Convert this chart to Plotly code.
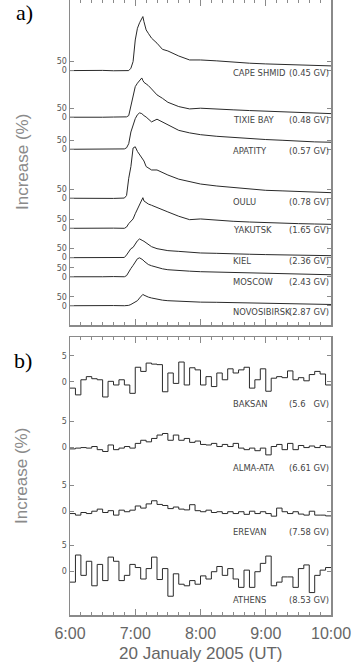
import plotly.graph_objects as go

# ---------------- data ----------------
# panel a: minutes after 06:00 UT, increase in %
t_a = [0, 10, 20, 30, 40, 50, 52, 54, 56, 58, 60, 62, 64, 66, 67, 68, 70, 72, 75,
       80, 85, 90, 100, 110, 120, 135, 150, 165, 180, 195, 210, 225, 240]

cape_shmidt = [0, 1, -2, 1, -1, 0, 1, 0, 13, 50, 170, 235, 266, 290, 300, 272, 226, 207, 180,
               152, 118, 109, 81, 59, 59, 54, 46, 41, 37, 35, 31, 28, 26]
tixie_bay = [0, -1, 1, 0, 1, 0, 2, 9, 65, 120, 170, 189, 207, 218, 204, 194, 185, 176, 157,
             124, 105, 83, 59, 46, 50, 44, 41, 37, 33, 30, 26, 22, 20]
apatity = [0, 1, 0, -1, 0, 2, 8, 31, 96, 139, 170, 192, 202, 198, 189, 187, 179, 170, 152,
           167, 152, 133, 105, 91, 81, 72, 65, 59, 54, 50, 44, 41, 39]
oulu = [0, -1, 1, 0, -1, 1, 15, 111, 176, 279, 286, 260, 243, 227, 218, 207, 176, 167, 157,
        157, 142, 129, 106, 92, 79, 68, 59, 50, 44, 41, 37, 33, 31]
yakutsk = [0, 1, -1, 0, 1, 0, 7, 26, 41, 52, 81, 104, 131, 155, 170, 152, 141, 135, 128,
           117, 104, 91, 67, 48, 52, 44, 39, 35, 31, 30, 26, 24, 22]
kiel = [0, 1, 0, -1, 0, 1, 15, 35, 50, 57, 76, 94, 104, 100, 94, 91, 81, 72, 61,
        50, 44, 39, 35, 30, 26, 24, 20, 19, 17, 15, 13, 13, 11]
moscow = [0, -1, 1, 0, 1, 0, 6, 28, 46, 63, 85, 100, 105, 100, 94, 87, 78, 68, 61,
          52, 44, 39, 33, 31, 28, 26, 24, 22, 19, 17, 15, 13, 11]
novosibirsk = [0, 1, -1, 0, 1, 0, 0, 2, 7, 13, 20, 28, 43, 59, 63, 59, 52, 48, 43,
               35, 31, 28, 24, 22, 20, 19, 17, 15, 13, 11, 9, 9, 7]

names_a = ["CAPE SHMID", "TIXIE BAY", "APATITY", "OULU", "YAKUTSK", "KIEL", "MOSCOW", "NOVOSIBIRSK"]
rig_a = ["(0.45 GV)", "(0.48 GV)", "(0.57 GV)", "(0.78 GV)", "(1.65 GV)", "(2.36 GV)", "(2.43 GV)", "(2.87 GV)"]
series_a = [cape_shmidt, tixie_bay, apatity, oulu, yakutsk, kiel, moscow, novosibirsk]

# panel b: 5-minute averages, minutes after 06:00 UT, increase in %
bin_b = 5
baksan = [-1.2, -2.5, 0.4, 1.0, 0.6, 0.4, -2.9, 0.1, -0.6, 0.4, -0.6, -2.2, 2.8, 2.0, 3.6, 3.4,
          3.3, -1.9, 1.7, -0.3, 3.8, -0.6, 2.7, 2.3, -0.6, 1.0, -0.9, 1.7, 0.4, 2.5, 1.7, 2.3,
          2.8, -1.2, 0.4, 2.5, -1.8, 0.7, 1.0, 0.8, 2.1, 0.4, 0.8, 0.2, 1.4, 2.0, 1.5, -0.6]
alma_ata = [-0.25, -0.1, 0.0, -0.1, 0.2, -0.4, -0.75, 0.5, -0.4, -0.1, 0.2, -0.1, 0.8, 1.4, 1.1, 1.75,
            2.4, 2.7, 1.4, 2.4, 1.4, 1.75, 1.0, 1.25, 0.6, 0.5, 0.8, 0.2, 0.6, 0.2, 0.8, -0.1,
            -0.4, -0.1, -0.6, -0.1, -1.4, 0.2, 0.6, -0.4, 0.8, -0.4, 0.4, 0.0, 0.3, 0.0, 0.4, 0.1]
erevan = [-0.45, -0.75, -0.25, -0.45, 0.0, 0.4, -0.25, 0.1, -0.75, 0.2, -0.1, 0.2, 1.0, 0.6, 1.4, 2.0,
          1.3, 1.1, 0.5, 0.8, 0.4, 0.25, 1.25, 0.1, -0.1, 0.2, -0.25, -0.1, -0.45, -0.1, -0.45, -0.1,
          -0.6, 0.0, -0.45, -0.1, -0.45, -0.95, 0.6, -0.1, -0.45, -0.1, -0.55, -0.75, 0.0, -0.75, -0.75, -0.9]
athens = [-2.1, 3.1, -0.8, 1.9, -2.8, 1.3, -1.8, 2.7, 1.9, -1.8, -0.8, 1.3, 0.7, -1.5, 0.5, 2.7,
          -1.6, 0.5, -4.8, -0.5, -2.5, -2.8, -1.8, -2.5, -0.9, -1.5, -0.1, 0.9, -0.8, 0.5, -1.5, -3.1,
          0.2, -3.1, -0.1, 1.5, 2.9, -2.8, -2.1, -1.1, -1.1, -3.1, 0.5, 1.2, -4.1, -0.8, 0.2, 0.7]

names_b = ["BAKSAN", "ALMA-ATA", "EREVAN", "ATHENS"]
rig_b = ["(5.6   GV)", "(6.61 GV)", "(7.58 GV)", "(8.53 GV)"]
series_b = [baksan, alma_ata, erevan, athens]

hour_ticks = [0, 60, 120, 180, 240]
hour_labels = ["6:00", "7:00", "8:00", "9:00", "10:00"]
x_title = "20 Janualy 2005 (UT)"
y_title = "Increase (%)"

# ---------------- layout helpers ----------------
off_a = [1306, 1047, 869, 597, 430, 267, 161, 0]      # vertical stacking offsets (%)
lab_shift_a = [15, 15, 9, 19, 9, 18, 28, 35]
off_b = [36.3, 23.7, 11.5, 0.0]
lab_shift_b = [4.2, 3.85, 4.06, 5.44]

W, H = 358, 670
ML, MR, MT, MB = 70, 27, 0, 55
PH = H - MT - MB
PW = W - ML - MR

def py(pix):  # pixel row -> paper
    return (H - MB - pix) / PH

def px(pix):
    return (pix - ML) / PW

line_col = "#2a2a2a"
axis_col = "#8a8a8a"
tick_font = dict(family="DejaVu Sans", size=8, color="#555555")
lab_font = dict(family="DejaVu Sans", size=8.4, color="#444444")

fig = go.Figure()

for vals, off in zip(series_a, off_a):
    fig.add_trace(go.Scatter(x=t_a, y=[v + off for v in vals], mode="lines",
                             line=dict(color=line_col, width=1), xaxis="x2", yaxis="y2",
                             hoverinfo="skip", showlegend=False))

for vals, off in zip(series_b, off_b):
    xs = [i * bin_b for i in range(len(vals))] + [len(vals) * bin_b]
    ys = [v + off for v in vals] + [vals[-1] + off]
    fig.add_trace(go.Scatter(x=xs, y=ys, mode="lines", line=dict(color=line_col, width=1, shape="hv"),
                             xaxis="x", yaxis="y", hoverinfo="skip", showlegend=False))

minor_vals = [m for m in range(0, 241, 10) if m % 60]
xcommon = dict(range=[0, 240], tickmode="array", tickvals=hour_ticks, ticks="inside", ticklen=6,
               tickcolor=axis_col, showline=True, linecolor=axis_col, linewidth=1.5, mirror="ticks",
               showgrid=False, zeroline=False, automargin=False,
               minor=dict(tickmode="array", tickvals=minor_vals, ticks="inside", ticklen=3, tickcolor=axis_col))

ya_vals, ya_text = [], []
for off in off_a:
    ya_vals += [off, off + 50]
    ya_text += ["0", "50"]
yb_vals, yb_text = [], []
for off in off_b:
    yb_vals += [off, off + 5]
    yb_text += ["0", "5"]

ycommon = dict(ticks="inside", ticklen=4, tickcolor=axis_col, showline=True, linecolor=axis_col,
               linewidth=1.5, mirror="ticks", showgrid=False, zeroline=False, tickfont=tick_font,
               tickmode="array", ticklabelstandoff=0, automargin=False)

fig.update_layout(
    width=W, height=H, margin=dict(l=ML, r=MR, t=MT, b=MB, autoexpand=False),
    paper_bgcolor="white", plot_bgcolor="white", showlegend=False,
    xaxis=dict(**xcommon, anchor="y", domain=[0, 1], ticktext=hour_labels, ticklabelstandoff=3,
               tickfont=dict(family="Liberation Sans", size=16, color="#666666")),
    xaxis2=dict(**xcommon, anchor="y2", domain=[0, 1], showticklabels=False),
    yaxis=dict(**ycommon, domain=[0, py(337)], range=[-8.4, 44.9], tickvals=yb_vals, ticktext=yb_text),
    yaxis2=dict(**ycommon, domain=[py(325), 1], range=[-107, 1698], tickvals=ya_vals, ticktext=ya_text),
)

ann = []
for name, rig, off, sh in zip(names_a, rig_a, off_a, lab_shift_a):
    ann.append(dict(x=px(231), y=off - sh, xref="paper", yref="y2", text=name, showarrow=False,
                    xanchor="left", yanchor="middle", font=lab_font))
    ann.append(dict(x=1.0, y=off - sh, xref="paper", yref="y2", text=rig, showarrow=False,
                    xanchor="right", yanchor="middle", font=lab_font))
for name, rig, off, sh in zip(names_b, rig_b, off_b, lab_shift_b):
    ann.append(dict(x=px(231), y=off - sh, xref="paper", yref="y", text=name, showarrow=False,
                    xanchor="left", yanchor="middle", font=lab_font))
    ann.append(dict(x=1.0, y=off - sh, xref="paper", yref="y", text=rig, showarrow=False,
                    xanchor="right", yanchor="middle", font=lab_font))

ann.append(dict(x=px(24), y=py(13), xref="paper", yref="paper", text="a)", showarrow=False,
                xanchor="center", yanchor="middle",
                font=dict(family="Liberation Serif", size=22, color="black")))
ann.append(dict(x=px(23), y=py(361), xref="paper", yref="paper", text="b)", showarrow=False,
                xanchor="center", yanchor="middle",
                font=dict(family="Liberation Serif", size=22, color="black")))
for cy in (162, 476):
    ann.append(dict(x=px(22), y=py(cy), xref="paper", yref="paper", text=y_title, showarrow=False,
                    textangle=-90, xanchor="center", yanchor="middle",
                    font=dict(family="Liberation Sans", size=17, color="#8a8a8a")))
ann.append(dict(x=px(200), y=py(653), xref="paper", yref="paper", text=x_title, showarrow=False,
                xanchor="center", yanchor="middle",
                font=dict(family="Liberation Sans", size=17, color="#666666")))
fig.update_layout(annotations=ann)

fig.write_html("out.html", config={"displayModeBar": False, "staticPlot": True},
               post_script="document.body.style.margin='0';document.body.style.overflow='hidden';")
